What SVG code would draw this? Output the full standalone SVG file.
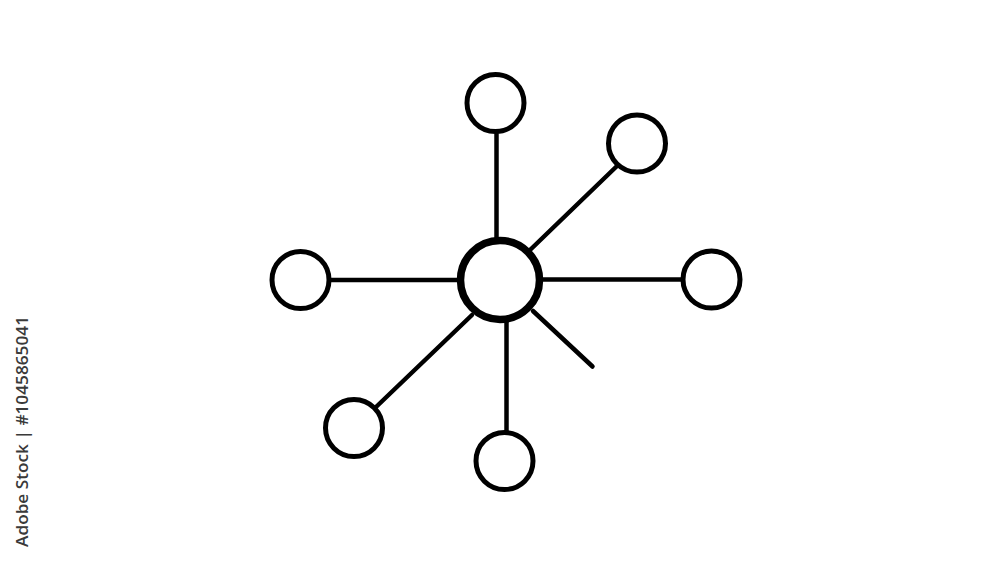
<svg xmlns="http://www.w3.org/2000/svg" width="1000" height="562" viewBox="0 0 1000 562">
  <style>
    .node { fill: #ffffff; stroke: #000000; stroke-width: 5; }
    .hub { fill: #ffffff; stroke: #000000; stroke-width: 7.5; }
    .edge { stroke: #000000; stroke-width: 4.5; stroke-linecap: round; fill: none; }
    .wm { font-family: "Open Sans", "Liberation Sans", sans-serif; font-size: 17px; font-weight: 600; fill: #3a3a3a; }
  </style>
  <rect width="1000" height="562" fill="#ffffff"/>
  <g id="connectors">
    <line class="edge" x1="496.5" y1="134" x2="496.5" y2="240"/>
    <line class="edge" x1="530" y1="250" x2="617" y2="166"/>
    <line class="edge" x1="330" y1="280" x2="460" y2="280"/>
    <line class="edge" x1="540" y1="279.5" x2="682" y2="279.5"/>
    <line class="edge" x1="472" y1="315" x2="376" y2="407"/>
    <line class="edge" x1="506.5" y1="320" x2="506.5" y2="432"/>
    <line class="edge" x1="533" y1="311" x2="592.5" y2="366.5"/>
  </g>
  <g id="hub"><circle class="hub" cx="500" cy="280" r="39.5"/></g>
  <g id="node-top"><circle class="node" cx="495.5" cy="103" r="28.5"/></g>
  <g id="node-topright"><circle class="node" cx="637" cy="143.5" r="28.5"/></g>
  <g id="node-left"><circle class="node" cx="300.5" cy="280" r="28.5"/></g>
  <g id="node-right"><circle class="node" cx="711.5" cy="279.5" r="28.5"/></g>
  <g id="node-bottomleft"><circle class="node" cx="354" cy="428" r="28.5"/></g>
  <g id="node-bottom"><circle class="node" cx="504.5" cy="461" r="28.5"/></g>
  <text class="wm" transform="translate(28,316) rotate(-90)" text-anchor="end" textLength="231" lengthAdjust="spacingAndGlyphs">Adobe Stock | #1045865041</text>
</svg>
